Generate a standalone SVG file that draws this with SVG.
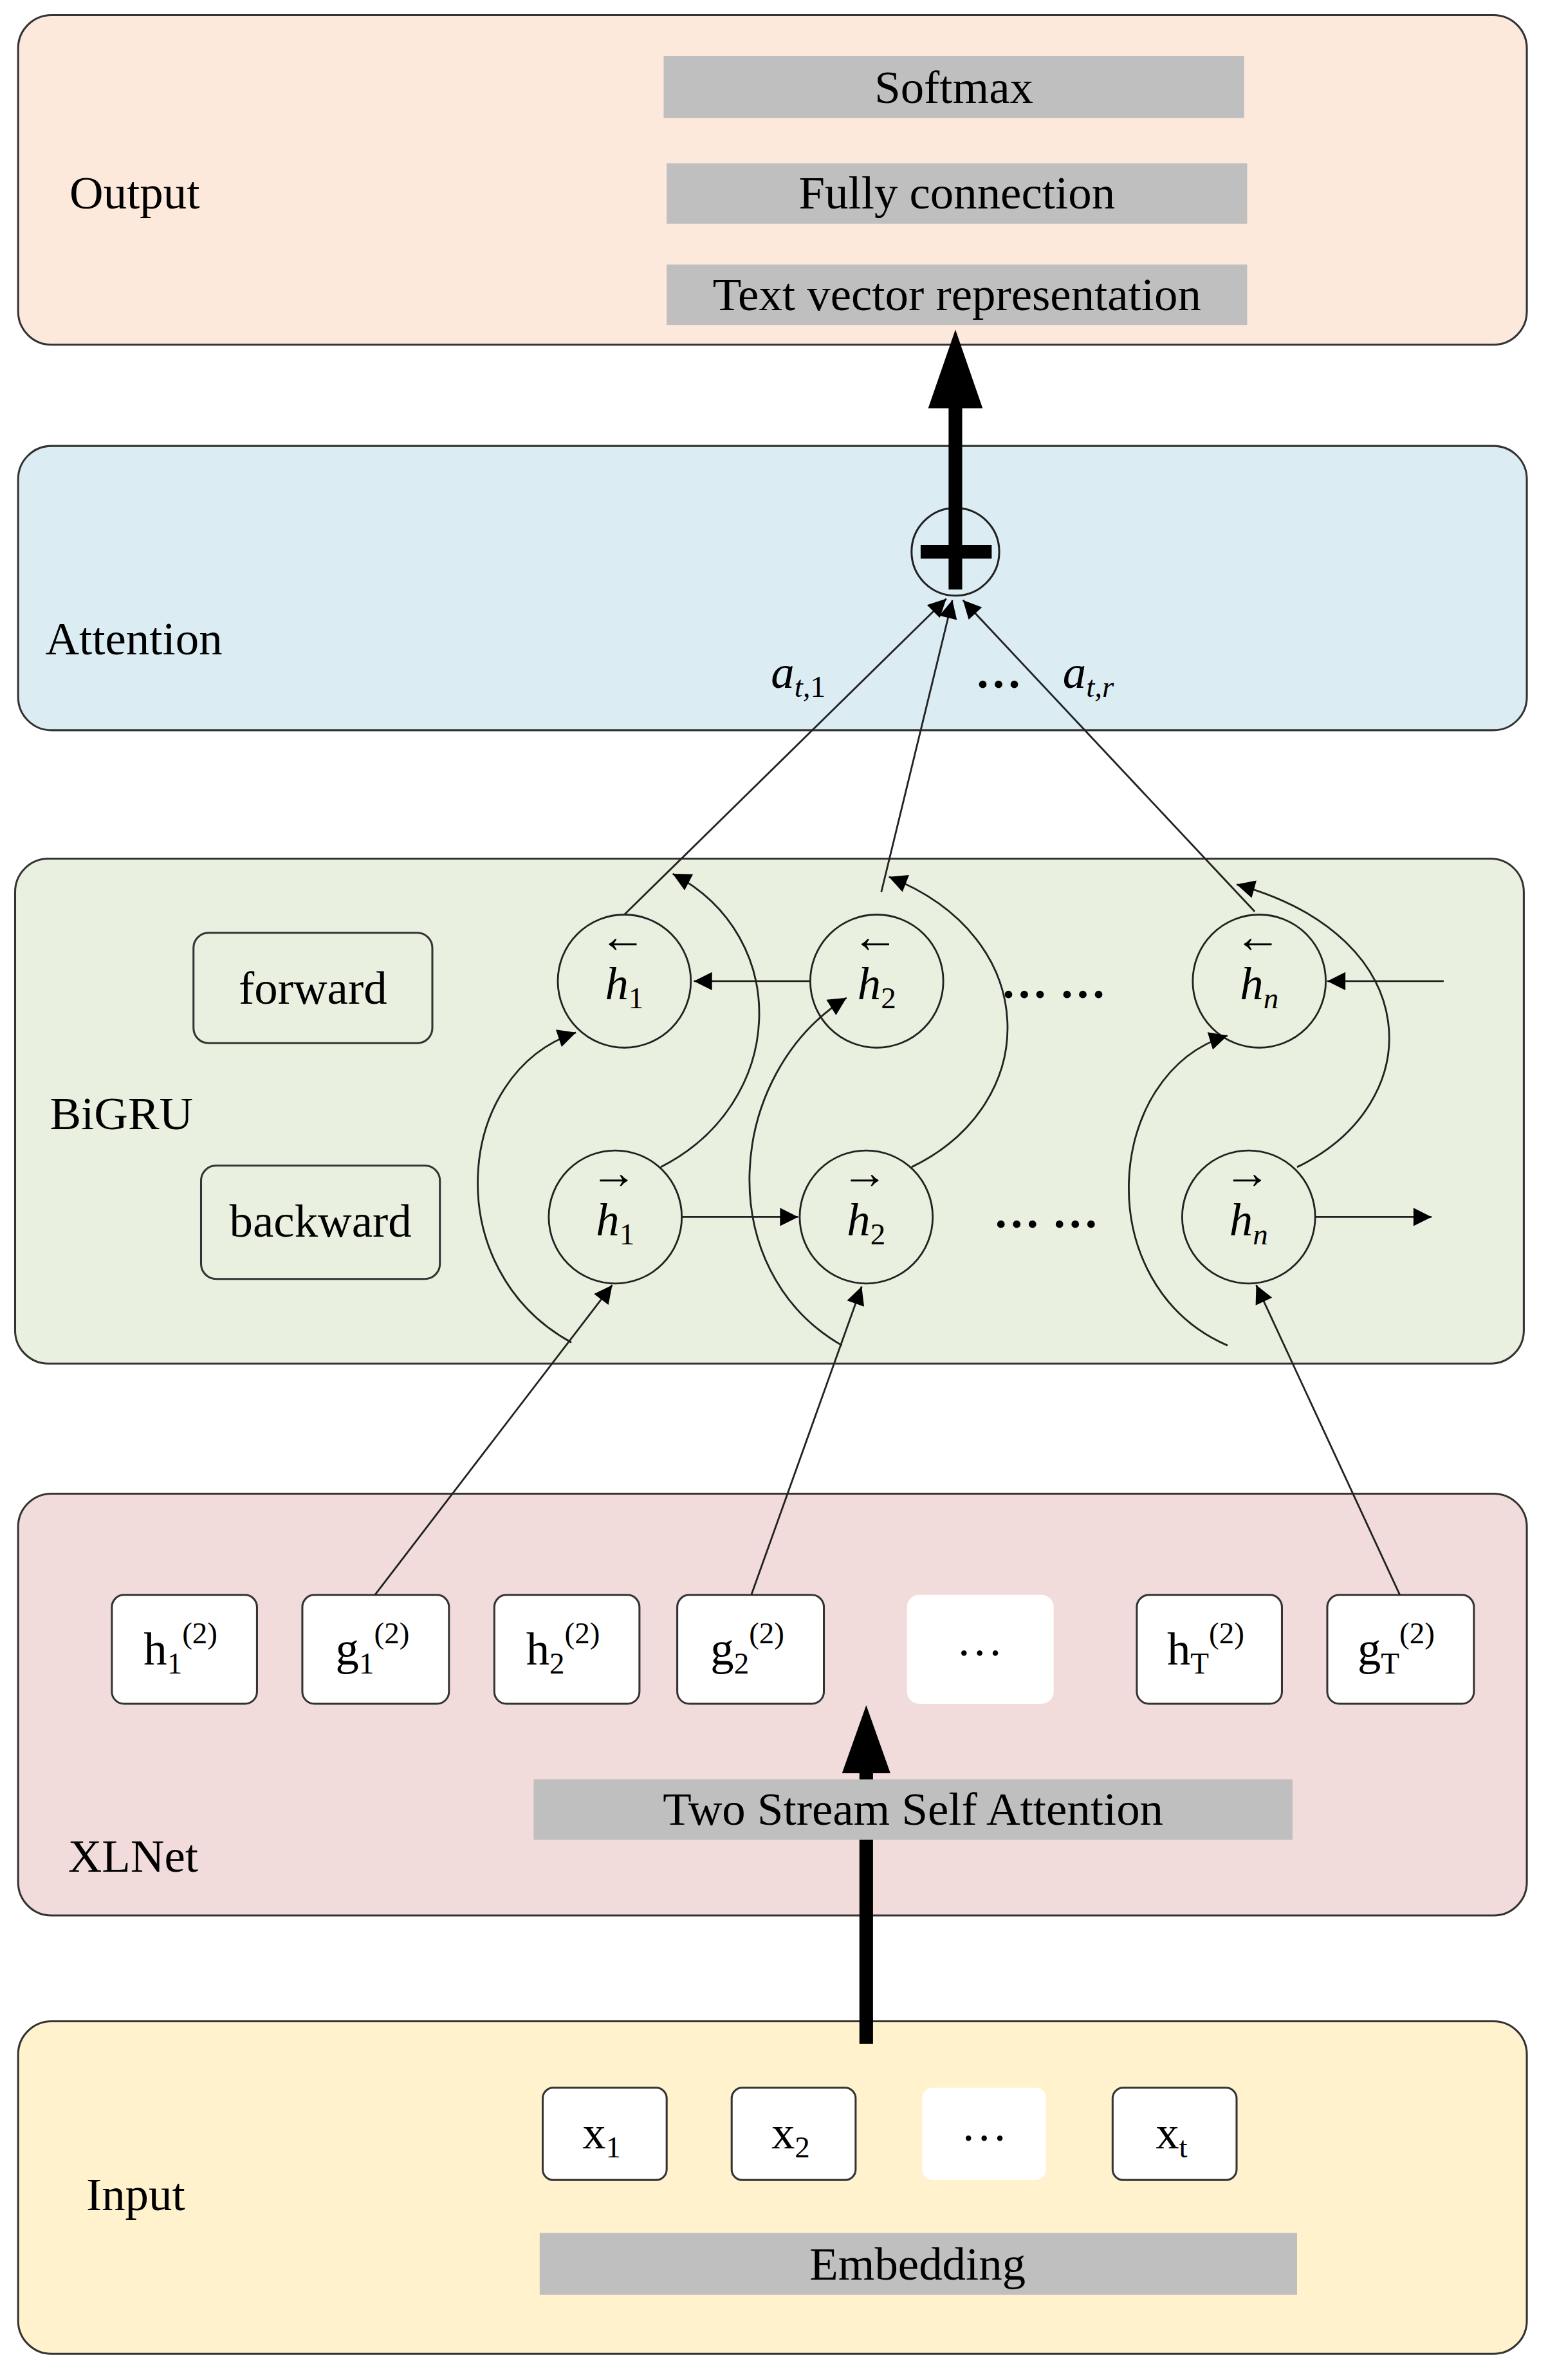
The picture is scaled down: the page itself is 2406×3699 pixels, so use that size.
<svg xmlns="http://www.w3.org/2000/svg" width="2406" height="3699" viewBox="0 0 2406 3699">
<defs>
<marker id="ah" viewBox="0 0 10 10" refX="10" refY="5" markerWidth="16" markerHeight="12" markerUnits="userSpaceOnUse" orient="auto"><path d="M0,0 L10,5 L0,10 z" fill="#000"/></marker>
<style>
text{font-family:"Liberation Serif",serif;font-size:31px;fill:#000}
.panel{stroke:#333;stroke-width:1.3}
.bar{fill:#bfbfbf}
.box{fill:#fff;stroke:#333;stroke-width:1.3}
.nb{fill:#e9f0df;stroke:#333;stroke-width:1.3}
.c{fill:none;stroke:#222;stroke-width:1.2}
.l{fill:none;stroke:#222;stroke-width:1.2;marker-end:url(#ah)}
.m{text-anchor:middle}
.n{font-style:normal}
</style>
</defs>
<rect width="2406" height="3699" fill="#fff"/>
<g transform="scale(2.3496)">
<g id="output">
<rect class="panel" x="12" y="10" width="998" height="218" rx="22" fill="#fce9dc"/>
<text x="46" y="138">Output</text>
<rect class="bar" x="439" y="37" width="384" height="41"/><text class="m" x="631" y="68">Softmax</text>
<rect class="bar" x="441" y="108" width="384" height="40"/><text class="m" x="633" y="138">Fully connection</text>
<rect class="bar" x="441" y="175" width="384" height="40"/><text class="m" x="633" y="205">Text vector representation</text>
</g>
<g id="attention">
<rect class="panel" x="12" y="295" width="998" height="188" rx="22" fill="#dbecf3"/>
<text x="30" y="433">Attention</text>
<circle cx="632" cy="365" r="29" fill="none" stroke="#222" stroke-width="1.3"/>
<text x="510" y="455" font-style="italic">a<tspan font-size="20" dy="6">t,</tspan><tspan class="n" font-size="20">1</tspan></text>
<text x="645" y="455" font-weight="bold">…</text>
<text x="703" y="455" font-style="italic">a<tspan font-size="20" dy="6">t,r</tspan></text>
</g>
<g id="bigru">
<rect class="panel" x="10" y="568" width="998" height="334" rx="22" fill="#e9f0df"/>
<text x="33" y="747">BiGRU</text>
<rect class="nb" x="128" y="617" width="158" height="73" rx="10"/><text class="m" x="207" y="664">forward</text>
<rect class="nb" x="133" y="771" width="158" height="75" rx="10"/><text class="m" x="212" y="818">backward</text>
<text x="662" y="660" font-weight="bold">… …</text>
<text x="657" y="812" font-weight="bold">… …</text>
</g>
<g id="h1b"><circle class="c" cx="413" cy="649" r="44"/><text class="m" x="413" y="661" font-style="italic">h<tspan class="n" font-size="20" dy="6">1</tspan></text><text class="m" x="412" y="630" font-size="22">←</text></g>
<g id="h2b"><circle class="c" cx="580" cy="649" r="44"/><text class="m" x="580" y="661" font-style="italic">h<tspan class="n" font-size="20" dy="6">2</tspan></text><text class="m" x="579" y="630" font-size="22">←</text></g>
<g id="hnb"><circle class="c" cx="833" cy="649" r="44"/><text class="m" x="833" y="661" font-style="italic">h<tspan font-size="20" dy="6">n</tspan></text><text class="m" x="832" y="630" font-size="22">←</text></g>
<g id="h1f"><circle class="c" cx="407" cy="805" r="44"/><text class="m" x="407" y="817" font-style="italic">h<tspan class="n" font-size="20" dy="6">1</tspan></text><text class="m" x="406" y="786" font-size="22">→</text></g>
<g id="h2f"><circle class="c" cx="573" cy="805" r="44"/><text class="m" x="573" y="817" font-style="italic">h<tspan class="n" font-size="20" dy="6">2</tspan></text><text class="m" x="572" y="786" font-size="22">→</text></g>
<g id="hnf"><circle class="c" cx="826" cy="805" r="44"/><text class="m" x="826" y="817" font-style="italic">h<tspan font-size="20" dy="6">n</tspan></text><text class="m" x="825" y="786" font-size="22">→</text></g>
<g id="xlnet">
<rect class="panel" x="12" y="988" width="998" height="279" rx="22" fill="#f2dcdb"/>
<text x="45" y="1238">XLNet</text>
</g>
<g id="xh1"><rect class="box" x="74" y="1055" width="96" height="72" rx="8"/><text x="95" y="1101">h<tspan font-size="20" dy="6">1</tspan><tspan font-size="20" dy="-20">(2)</tspan></text></g>
<g id="xg1"><rect class="box" x="200" y="1055" width="97" height="72" rx="8"/><text x="222" y="1101">g<tspan font-size="20" dy="6">1</tspan><tspan font-size="20" dy="-20">(2)</tspan></text></g>
<g id="xh2"><rect class="box" x="327" y="1055" width="96" height="72" rx="8"/><text x="348" y="1101">h<tspan font-size="20" dy="6">2</tspan><tspan font-size="20" dy="-20">(2)</tspan></text></g>
<g id="xg2"><rect class="box" x="448" y="1055" width="97" height="72" rx="8"/><text x="470" y="1101">g<tspan font-size="20" dy="6">2</tspan><tspan font-size="20" dy="-20">(2)</tspan></text></g>
<g id="xdots"><rect x="600" y="1055" width="97" height="72" rx="8" fill="#fff"/><text class="m" x="648" y="1095">…</text></g>
<g id="xhT"><rect class="box" x="752" y="1055" width="96" height="72" rx="8"/><text x="772" y="1101">h<tspan font-size="20" dy="6">T</tspan><tspan font-size="20" dy="-20">(2)</tspan></text></g>
<g id="xgT"><rect class="box" x="878" y="1055" width="97" height="72" rx="8"/><text x="898" y="1101">g<tspan font-size="20" dy="6">T</tspan><tspan font-size="20" dy="-20">(2)</tspan></text></g>
<g id="input">
<rect class="panel" x="12" y="1337" width="998" height="220" rx="22" fill="#fff2cc"/>
<text x="57" y="1462">Input</text>
<rect class="bar" x="357" y="1477" width="501" height="41"/><text class="m" x="607" y="1508">Embedding</text>
</g>
<g id="x1"><rect class="box" x="359" y="1381" width="82" height="61" rx="7"/><text class="m" x="398" y="1421">x<tspan font-size="20" dy="6">1</tspan></text></g>
<g id="x2"><rect class="box" x="484" y="1381" width="82" height="61" rx="7"/><text class="m" x="523" y="1421">x<tspan font-size="20" dy="6">2</tspan></text></g>
<g id="xd"><rect x="610" y="1381" width="82" height="61" rx="7" fill="#fff"/><text class="m" x="651" y="1416">…</text></g>
<g id="xt"><rect class="box" x="736" y="1381" width="82" height="61" rx="7"/><text class="m" x="775" y="1421">x<tspan font-size="20" dy="6">t</tspan></text></g>
<g id="connectors">
<line x1="632" y1="390" x2="632" y2="262" stroke="#000" stroke-width="9"/>
<path d="M632,218 L650,270 L614,270 z" fill="#000"/>
<line x1="609" y1="365" x2="656" y2="365" stroke="#000" stroke-width="9"/>
<line x1="573" y1="1352" x2="573" y2="1165" stroke="#000" stroke-width="9"/>
<path d="M573,1128 L589,1173 L557,1173 z" fill="#000"/>
<path class="l" d="M413,605 L626,396"/>
<path class="l" d="M583,590 L630,397"/>
<path class="l" d="M830,603 L637,397"/>
<path class="l" d="M536,649 L459,649"/>
<path class="l" d="M955,649 L878,649"/>
<path class="l" d="M451,805 L528,805"/>
<path class="l" d="M870,805 L947,805"/>
<path class="l" d="M437,772 C520,730 525,620 445,578"/>
<path class="l" d="M378,888 C290,840 300,710 381,683"/>
<path class="l" d="M603,772 C690,730 690,620 588,580"/>
<path class="l" d="M557,890 C470,840 480,710 560,660"/>
<path class="l" d="M858,772 C945,730 945,620 818,585"/>
<path class="l" d="M812,890 C720,850 730,710 812,685"/>
<path class="l" d="M248,1055 L405,850"/>
<path class="l" d="M497,1055 L570,851"/>
<path class="l" d="M926,1055 L831,850"/>
</g>
<g id="twostream">
<rect class="bar" x="353" y="1177" width="502" height="40"/><text class="m" x="604" y="1207">Two Stream Self Attention</text>
</g>
</g>
</svg>
